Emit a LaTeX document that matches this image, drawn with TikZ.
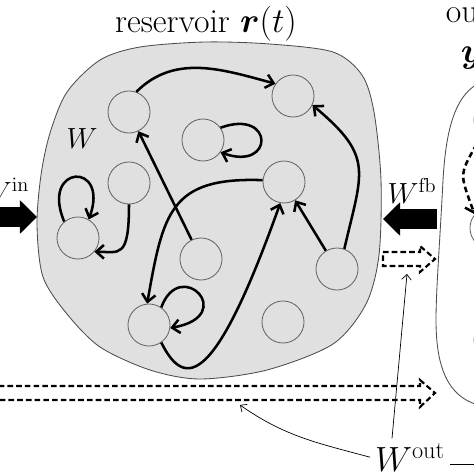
\documentclass[tikz,border=0pt]{standalone}
\usepackage{amsmath,amssymb}
\usetikzlibrary{arrows.meta,positioning,calc}
\tikzset{unit/.style={circle,draw=black!60,line width=0.6pt,minimum size=1.05cm,inner sep=0pt},link/.style={-{Straight Barb[length=1.9mm,width=3.4mm]},line width=1.8pt},blk/.style={-{Triangle[length=4.3mm,width=8.2mm]},line width=4.8mm},hollow/.style={dash pattern=on 4pt off 2.2pt,line width=1.5pt,line join=miter},note/.style={-{Straight Barb[length=1.3mm,width=2.4mm]},line width=0.5pt},lab/.style={font=\fontsize{20.5}{24}\selectfont},ttl/.style={font=\fontsize{24}{28}\selectfont}}

\begin{document}
\begin{tikzpicture}[x=0.025cm,y=0.025cm]
\useasboundingbox (0,0) rectangle (474,-474);
% output layer, cut by the right edge
\draw[black!70,line width=0.6pt,fill=white] (495,-79) .. controls (455,-82) and (446,-130) .. (443,-180) .. controls (440,-240) and (436,-290) .. (436,-320) .. controls (436,-380) and (455,-405) .. (495,-408);
\node[unit] (o1) at (495,-120) {};
\node[unit] (o2) at (491,-228) {};
\node[unit] (o3) at (495,-340) {};
\draw[link,dash pattern=on 4pt off 2.5pt] (o1.-130) to[out=-120,in=110,looseness=1.5] (o2.140);
\node[ttl,anchor=base west] (outttl) at (441,-22) {output};
\node[ttl,anchor=base west] (outvar) at (456,-62) {$\boldsymbol{y}(t)$};
% reservoir
\draw[black!70,line width=0.6pt,fill=black!12] plot[smooth cycle] coordinates {(205,-42) (270,-44) (333,-52) (362,-75) (374,-112) (381,-180) (379,-255) (366,-304) (333,-344) (267,-370) (200,-379) (150,-370) (100,-347) (67,-314) (43,-277) (37,-225) (41,-175) (50,-133) (67,-92) (100,-60) (140,-47)};
\node[ttl,anchor=base] (resttl) at (206,-32) {reservoir\ $\boldsymbol{r}(t)$};
\node[lab] (wres) at (82,-139) {$W$};
\node[unit] (r1) at (129,-112) {};
\node[unit] (r2) at (293,-96) {};
\node[unit] (r3) at (203,-140) {};
\node[unit] (r4) at (129,-183) {};
\node[unit] (r5) at (284,-182) {};
\node[unit] (r6) at (78,-238) {};
\node[unit] (r7) at (201,-259) {};
\node[unit] (r8) at (337,-269) {};
\node[unit] (r9) at (149,-325) {};
\node[unit] (r10) at (283,-322) {};
\draw[link] (r1.70) to[out=45,in=165] (r2.145);
\draw[link] (r7) -- (r1);
\draw[link] (r3.35) to[out=20,in=-20,looseness=6] (r3.-35);
\draw[link] (r5.175) to[out=178,in=80,looseness=1.4] (r9.95);
\draw[link] (r4.south) .. controls +(0,-55) and +(25,0) .. (r6.-40);
\draw[link] (r6.130) to[out=113,in=70,looseness=6.5] (r6.60);
\draw[link] (r9.-55) .. controls (185,-390) and (215,-386) .. (r5.-100);
\draw[link] (r9.55) .. controls +(70:55) and +(10:70) .. (r9.-8);
\draw[link] (r8) -- (r5);
\draw[link] (r8.70) to[out=77,in=-40,looseness=1.4] (r2.-25);
% input and feedback
\coordinate (inL) at (-5,-217);
\coordinate (resW) at (37,-217);
\draw[blk] (inL) -- (resW);
\node[lab,anchor=base] (win) at (5,-202) {$W^{\mathrm{in}}$};
\coordinate (outW) at (437,-219);
\coordinate (resE) at (383,-219);
\draw[blk] (outW) -- (resE);
\node[lab,anchor=base] (wfb) at (412,-203) {$W^{\mathrm{fb}}$};
% readout
\draw[hollow] (383,-252) -- (420,-252) -- (420,-246) -- (435,-259) -- (420,-272) -- (420,-266) -- (383,-266) -- cycle;
\draw[hollow] (-10,-386) -- (420,-386) -- (420,-380) -- (435,-393) -- (420,-407) -- (420,-400) -- (-10,-400);
\coordinate (hs) at (407,-274);
\coordinate (hl) at (240,-405);
\node[font=\fontsize{26}{30}\selectfont,anchor=base] (wout) at (410,-471) {$W^{\mathrm{out}}$};
\draw[note] ([xshift=-4.5mm]wout.north) -- (hs);
\draw[note] (wout.west) to[out=165,in=-35] (hl);
\coordinate (outlink) at (490,-464);
\draw[line width=0.5pt] (wout.east |- outlink) -- (outlink);
\end{tikzpicture}
\end{document}
